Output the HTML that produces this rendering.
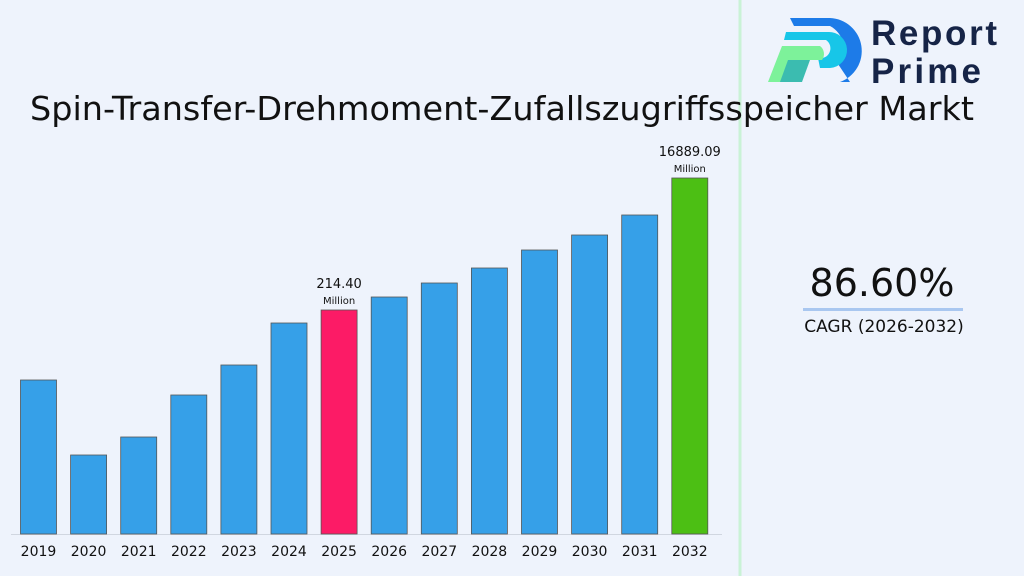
<!DOCTYPE html>
<html><head><meta charset="utf-8"><style>
html,body{margin:0;padding:0;width:1024px;height:576px;overflow:hidden;background:#eef3fc;font-family:"DejaVu Sans","Liberation Sans",sans-serif;}
</style></head><body>
<svg width="1024" height="576" xmlns="http://www.w3.org/2000/svg">
<rect x="0" y="0" width="1024" height="576" fill="#eef3fc"/>
<line x1="740" y1="0" x2="740" y2="576" stroke="#c9f2d6" stroke-width="3"/>
<g>
<path d="M790 18 L830 18 A33 33 0 0 1 840 82 L850 82 L838 64 A25 25 0 0 0 830 26 L794 26 Z" fill="#1d7be8"/>
<path d="M786 32 L828 32 A18 18 0 0 1 830 68 L820 68 L818 58 A10 10 0 0 0 826 40 L784 40 Z" fill="#17c6e8"/>
<path d="M782 46 L820 46 A10 10 0 0 1 822 60 L802 60 L794 82 L768 82 Z" fill="#7df29a"/>
<path d="M788 60 L810 60 L802 82 L780 82 Z" fill="#3bbcb0"/>
<text x="871" y="45" font-family="Liberation Sans" font-weight="bold" font-size="35" fill="#162447" textLength="126">Report</text>
<text x="871" y="83" font-family="Liberation Sans" font-weight="bold" font-size="35" fill="#162447" textLength="110">Prime</text>
</g>
<text x="502" y="120" text-anchor="middle" font-size="33" fill="#111" textLength="944" lengthAdjust="spacingAndGlyphs">Spin-Transfer-Drehmoment-Zufallszugriffsspeicher Markt</text>
<line x1="11" y1="534.5" x2="722" y2="534.5" stroke="#d0d6e0" stroke-width="1"/>
<g id="bars"></g>
<text x="882" y="296" text-anchor="middle" font-size="38" fill="#111">86.60%</text>
<rect x="803" y="308" width="160" height="3" fill="#a9c7f0"/>
<text x="884" y="332" text-anchor="middle" font-size="17" fill="#111">CAGR (2026-2032)</text>
</svg>
<script>
const categories=["2019","2020","2021","2022","2023","2024","2025","2026","2027","2028","2029","2030","2031","2032"];
const values=[154,79,97,139,169,211,224,237,251,266,284,299,319,356];
const colors=["#36a0e8","#36a0e8","#36a0e8","#36a0e8","#36a0e8","#36a0e8","#fc1b66","#36a0e8","#36a0e8","#36a0e8","#36a0e8","#36a0e8","#36a0e8","#4cbf14"];
const labelValues={6:"214.40",13:"16889.09"};
const baseY=534,x0=20.5,step=50.1,bw=36;
const yScale=v=>baseY-v;
const g=document.getElementById('bars');
const NS="http://www.w3.org/2000/svg";
categories.forEach((c,i)=>{
  const x=x0+i*step,y=yScale(values[i]);
  const r=document.createElementNS(NS,'rect');
  r.setAttribute('x',x);r.setAttribute('y',y);r.setAttribute('width',bw);r.setAttribute('height',baseY-y);
  r.setAttribute('fill',colors[i]);r.setAttribute('stroke','#555');r.setAttribute('stroke-width','0.8');
  
  
  g.appendChild(r);
  const t=document.createElementNS(NS,'text');
  t.setAttribute('x',x+bw/2);t.setAttribute('y',556);t.setAttribute('text-anchor','middle');t.setAttribute('font-size','14');t.setAttribute('fill','#111');
  t.textContent=c;
  
  
  g.appendChild(t);
  if(labelValues[i]){
    const a=document.createElementNS(NS,'text');
    a.setAttribute('x',x+bw/2);a.setAttribute('y',y-22);a.setAttribute('text-anchor','middle');a.setAttribute('font-size','13');a.setAttribute('fill','#111');
    a.textContent=labelValues[i];
    
    
    g.appendChild(a);
    const m=document.createElementNS(NS,'text');
    m.setAttribute('x',x+bw/2);m.setAttribute('y',y-6);m.setAttribute('text-anchor','middle');m.setAttribute('font-size','10');m.setAttribute('fill','#111');
    m.textContent="Million";
    
    
    g.appendChild(m);
  }
});
</script>
</body></html>
